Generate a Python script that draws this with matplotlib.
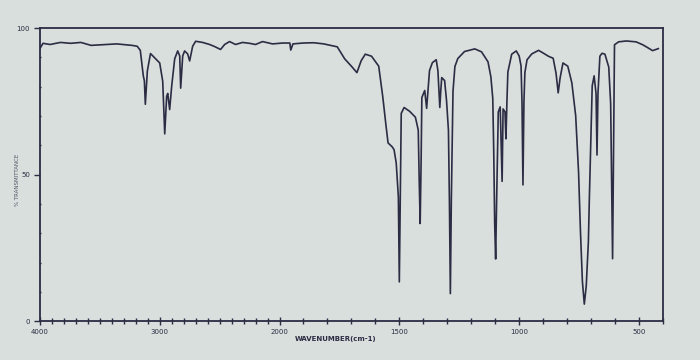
import numpy as np
import matplotlib.pyplot as plt
from matplotlib.ticker import FixedLocator, NullFormatter

# IR spectrum (wavenumber in cm-1, %T)
wavenumber = [
    4000, 3974, 3915, 3829, 3744, 3658, 3573, 3487, 3359, 3231,
    3188, 3162, 3137, 3128, 3120, 3103, 3077, 3043, 3000, 2975,
    2958, 2942, 2933, 2917, 2900, 2875, 2850, 2833, 2825, 2808,
    2792, 2767, 2750, 2725, 2700, 2642, 2583, 2542, 2492, 2458,
    2417, 2367, 2308, 2250, 2200, 2142, 2058, 1987, 1957, 1953,
    1944, 1901, 1858, 1815, 1759, 1728, 1698, 1677, 1659, 1642,
    1616, 1586, 1569, 1556, 1547, 1530, 1522, 1513, 1504, 1500,
    1496, 1492, 1480, 1457, 1433, 1421, 1417, 1413, 1409, 1406,
    1394, 1386, 1382, 1374, 1362, 1346, 1339, 1331, 1327, 1323,
    1311, 1303, 1295, 1291, 1287, 1283, 1276, 1268, 1256, 1228,
    1185, 1157, 1130, 1118, 1110, 1106, 1102, 1098, 1094, 1087,
    1079, 1071, 1067, 1059, 1055, 1051, 1047, 1031, 1012, 1000,
    992, 988, 984, 980, 976, 967, 947, 919, 898, 878,
    858, 846, 837, 829, 817, 797, 780, 764, 752, 744,
    736, 728, 720, 711, 707, 699, 695, 687, 679, 675,
    671, 663, 654, 642, 626, 618, 614, 610, 606, 602,
    585, 553, 512, 484, 463, 443, 419,
]
transmittance = [
    93.0, 94.8, 94.4, 95.1, 94.8, 95.1, 94.1, 94.3, 94.6, 94.1,
    93.8, 92.4, 83.7, 82.0, 74.0, 85.4, 91.3, 89.9, 88.1, 81.9,
    63.9, 76.7, 77.7, 72.2, 80.2, 89.5, 92.2, 90.5, 79.5, 90.5,
    92.2, 91.2, 88.8, 93.8, 95.5, 95.1, 94.4, 93.7, 92.7, 94.4,
    95.4, 94.4, 95.1, 94.8, 94.4, 95.4, 94.6, 94.9, 94.9, 92.5,
    94.6, 94.9, 95.0, 94.6, 93.6, 89.5, 86.8, 84.8, 88.9, 91.1,
    90.4, 87.0, 76.5, 67.0, 60.8, 59.5, 58.5, 54.0, 42.4, 13.4,
    41.3, 70.9, 72.9, 71.6, 69.6, 65.2, 48.1, 33.3, 54.8, 76.3,
    78.7, 72.6, 77.0, 85.5, 88.2, 89.2, 85.5, 72.9, 78.7, 83.1,
    82.1, 75.3, 65.1, 41.2, 9.4, 41.0, 78.4, 86.9, 89.6, 92.0,
    92.9, 91.9, 88.5, 83.4, 76.0, 58.0, 33.2, 21.2, 40.8, 71.4,
    73.1, 47.7, 72.4, 71.4, 62.2, 74.8, 85.0, 91.1, 92.2, 90.5,
    87.1, 74.6, 46.5, 74.6, 84.8, 89.2, 91.2, 92.4, 91.4, 90.4,
    89.7, 84.6, 77.9, 83.0, 88.1, 87.0, 81.3, 70.1, 50.9, 30.5,
    13.6, 5.8, 11.9, 27.1, 41.6, 67.5, 80.3, 83.7, 77.6, 56.7,
    77.6, 90.4, 91.4, 91.1, 86.7, 74.2, 47.2, 21.3, 57.3, 94.3,
    95.3, 95.6, 95.3, 94.3, 93.3, 92.3, 93.0,
]

major_ticks = [4000, 3000, 2000, 1500, 1000, 500]
major_labels = ["4000", "3000", "2000", "1500", "1000", "500"]
minor_ticks = list(range(4000, 399, -100))
y_ticks = list(range(0, 101, 10))
y_labels = [0, 50, 100]

bg = "#d8dfdc"
ink = "#2c2c44"


def fwd(w):
    w = np.asarray(w, dtype=float)
    return np.where(w >= 2000, (w - 2000) / 1000.0, (w - 2000) / 500.0)


def inv(u):
    u = np.asarray(u, dtype=float)
    return np.where(u >= 0, 2000 + 1000.0 * u, 2000 + 500.0 * u)


fig = plt.figure(figsize=(7, 3.6), dpi=100, facecolor=bg)
ax = fig.add_axes([0.057, 0.108, 0.890, 0.814], facecolor=bg)
ax.set_xscale("function", functions=(fwd, inv))

ax.plot(wavenumber, transmittance, color=ink, linewidth=1.2)

ax.set_xlim(4000, 400)
ax.set_ylim(0, 100)

ax.xaxis.set_major_locator(FixedLocator(major_ticks))
ax.set_xticklabels(major_labels)
ax.xaxis.set_minor_locator(FixedLocator(minor_ticks))
ax.xaxis.set_minor_formatter(NullFormatter())
ax.tick_params(axis="x", which="major", direction="inout", length=6, width=1,
               color=ink, labelsize=5, labelcolor=ink, pad=3)
ax.tick_params(axis="x", which="minor", direction="inout", length=4, width=1,
               color=ink)

ax.yaxis.set_major_locator(FixedLocator(y_labels))
ax.yaxis.set_minor_locator(FixedLocator(y_ticks))
ax.yaxis.set_minor_formatter(NullFormatter())
ax.tick_params(axis="y", which="major", direction="out", length=4, width=1,
               color=ink, labelsize=5, labelcolor=ink, pad=3)
ax.tick_params(axis="y", which="minor", direction="inout", length=2, width=1,
               color=ink)

for s in ax.spines.values():
    s.set_color(ink)
    s.set_linewidth(1.3)

fig.text(0.479, 0.058, "WAVENUMBER(cm-1)", fontsize=5, fontweight="bold",
         color=ink, ha="center", va="center")
fig.text(0.025, 0.5, "% TRANSMITTANCE", fontsize=4, color="#55556a",
         rotation=90, ha="center", va="center")

plt.savefig("out.png", dpi=100, facecolor=bg)
